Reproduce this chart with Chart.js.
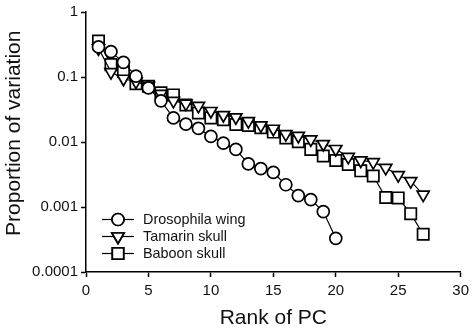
<!DOCTYPE html>
<html>
<head>
<meta charset="utf-8">
<script src="https://cdn.jsdelivr.net/npm/chart.js@4/dist/chart.umd.min.js"></script>
<style>
  html, body { margin: 0; padding: 0; background: #fff; }
  canvas { display: block; }
</style>
</head>
<body>
<canvas id="grafico" width="474" height="329"></canvas>
<script>
// ================= DADOS =================
const rankDrosophila = [1, 2, 3, 4, 5, 6, 7, 8, 9, 10, 11, 12, 13, 14, 15, 16, 17, 18, 19, 20];
const rankSkull = [1, 2, 3, 4, 5, 6, 7, 8, 9, 10, 11, 12, 13, 14, 15, 16, 17, 18, 19, 20, 21, 22, 23, 24, 25, 26, 27];

const drosophilaWing = [0.29, 0.245, 0.168, 0.103, 0.068, 0.043, 0.0235, 0.0188, 0.0162, 0.0122,
  0.0096, 0.0077, 0.0046, 0.0039, 0.0034, 0.0022, 0.0015, 0.0013, 0.00085, 0.00033];
const tamarinSkull = [0.277, 0.119, 0.094, 0.085, 0.073, 0.055, 0.043, 0.039, 0.036, 0.030,
  0.026, 0.024, 0.021, 0.018, 0.016, 0.0132, 0.0124, 0.011, 0.0093, 0.0078,
  0.0059, 0.0052, 0.0049, 0.0040, 0.0031, 0.0025, 0.00155];
const baboonSkull = [0.357, 0.155, 0.123, 0.079, 0.072, 0.057, 0.053, 0.037, 0.028, 0.0235,
  0.022, 0.0186, 0.018, 0.0166, 0.0142, 0.0115, 0.0101, 0.0077, 0.0061, 0.0052,
  0.0045, 0.0036, 0.0030, 0.0014, 0.00138, 0.00079, 0.00038];

const yTickValues = [0.0001, 0.001, 0.01, 0.1, 1];
const yTickLabels = ["0.0001", "0.001", "0.01", "0.1", "1"];

const FONTE = "'Liberation Sans', Arial, sans-serif";

function pontos(xs, ys) {
  return ys.map((v, i) => ({ x: xs[i], y: v }));
}

function serie(nome, xs, ys, estilo, raio, rot) {
  return {
    label: nome,
    data: pontos(xs, ys),
    borderColor: "#000",
    borderWidth: 1.2,
    backgroundColor: "#fff",
    pointStyle: estilo,
    pointRadius: raio,
    pointRotation: rot,
    pointBorderWidth: 1.7,
    pointBorderColor: "#000",
    pointBackgroundColor: "#fff",
    tension: 0
  };
}

// ================= LEGENDA =================
const legendaPlugin = {
  id: "legendaManual",
  afterDraw(chart) {
    const c = chart.ctx;
    const itens = chart.data.datasets;
    c.save();
    itens.forEach((ds, i) => {
      const y = 219.5 + i * 17;
      c.strokeStyle = "#000";
      c.lineWidth = 1.2;
      c.beginPath();
      c.moveTo(102, y);
      c.lineTo(134, y);
      c.stroke();
      c.lineWidth = 1.7;
      Chart.helpers.drawPoint(c, {
        pointStyle: ds.pointStyle,
        radius: ds.pointRadius,
        rotation: ds.pointRotation,
        borderWidth: 1.7
      }, 118, y);
      c.fillStyle = "#fff";
      c.fill();
      c.stroke();
      c.fillStyle = "#111";
      c.font = "14.4px " + FONTE;
      c.textBaseline = "middle";
      c.textAlign = "left";
      c.fillText(ds.label, 143, y + 0.5);
    });
    c.restore();
  }
};

// ================= GRÁFICO =================
let ctx = document.getElementById("grafico");

let chart = new Chart(ctx, {
  type: "line",
  data: {
    datasets: [
      serie("Drosophila wing", rankDrosophila, drosophilaWing, "circle", 6, 0),
      serie("Tamarin skull", rankSkull, tamarinSkull, "triangle", 7, 180),
      serie("Baboon skull", rankSkull, baboonSkull, "rect", 8, 0)
    ]
  },
  options: {
    responsive: false,
    animation: false,
    layout: { padding: { left: 0, top: 7, right: 9, bottom: 0 } },
    plugins: {
      legend: { display: false },
      tooltip: { enabled: false }
    },
    scales: {
      x: {
        type: "linear",
        min: 0,
        max: 30,
        afterFit: s => { s.height = 57; },
        ticks: { stepSize: 5, color: "#111", font: { family: FONTE, size: 15 }, padding: 5, maxRotation: 0 },
        grid: { drawOnChartArea: false, drawTicks: true, tickLength: 5, tickWidth: 1.5, tickColor: "#000" },
        border: { display: true, color: "#000", width: 1.5 },
        title: {
          display: true,
          text: "Rank of PC",
          color: "#111",
          font: { family: FONTE, size: 21, lineHeight: 1 },
          padding: { top: 0, bottom: 0 }
        }
      },
      y: {
        type: "logarithmic",
        min: 0.0001,
        max: 1,
        afterFit: s => { s.width = 86; },
        afterBuildTicks: s => { s.ticks = yTickValues.map(v => ({ value: v })); },
        ticks: {
          color: "#111",
          font: { family: FONTE, size: 15 },
          padding: 3,
          callback: v => {
            const i = yTickValues.findIndex(t => Math.abs(t - v) / t < 1e-6);
            return i >= 0 ? yTickLabels[i] : "";
          }
        },
        grid: { drawOnChartArea: false, drawTicks: true, tickLength: 5, tickWidth: 1.5, tickColor: "#000" },
        border: { display: true, color: "#000", width: 1.5 },
        title: {
          display: true,
          text: "   Proportion of variation",
          color: "#111",
          font: { family: FONTE, size: 21, lineHeight: 1 },
          padding: { top: 4, bottom: 0 }
        }
      }
    }
  },
  plugins: [legendaPlugin]
});
</script>
</body>
</html>
